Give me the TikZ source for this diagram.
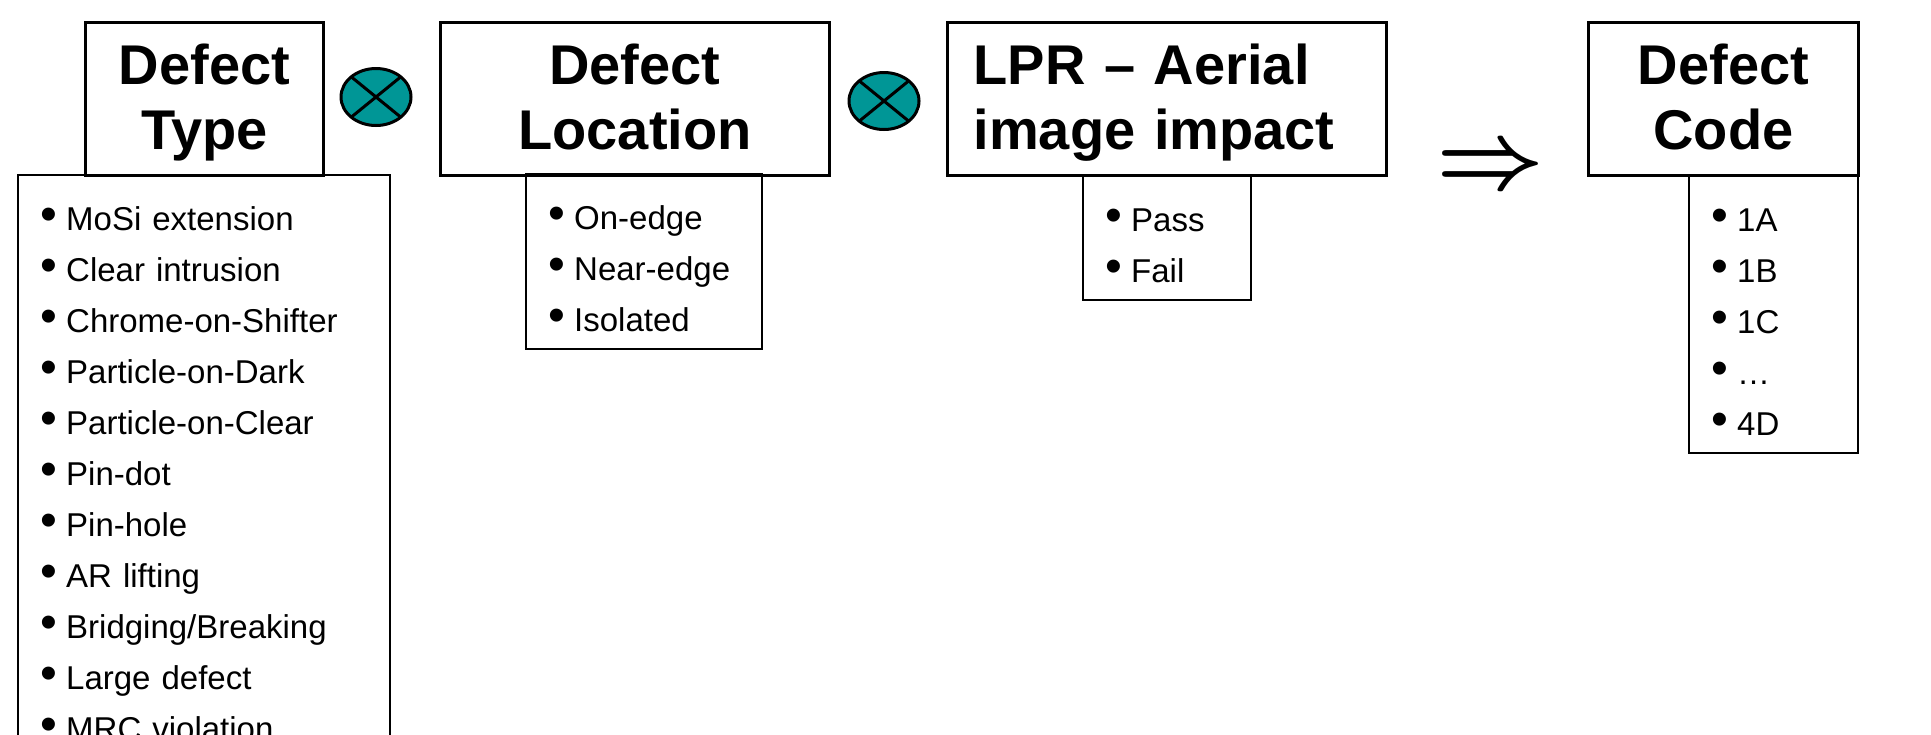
\documentclass[tikz,border=0pt]{standalone}
\usepackage{fontspec}
\setmainfont{Liberation Sans}
\usetikzlibrary{shapes.geometric}
\definecolor{sarcelle}{RGB}{0,150,150}
\newcommand{\puce}{\makebox[13pt][l]{\fontsize{24}{24}\selectfont\textbullet}}
\newcommand{\hautete}{\rule{0pt}{31pt}}
\newcommand{\bastete}{\rule[-13pt]{0pt}{13pt}}
\newcommand{\hautliste}{\rule{0pt}{27.5pt}}
\newcommand{\basliste}{\rule[-9pt]{0pt}{9pt}}
\tikzset{
  head_box/.style = {draw=black, line width=1.5pt, inner sep=0pt,
    anchor=north west, font=\fontsize{28}{32.5}\selectfont\bfseries},% titre
  list_box/.style = {draw=black, line width=1.2pt, inner xsep=11pt,
    inner ysep=0pt, anchor=north west, align=left,
    font=\fontsize{16.5}{25.5}\selectfont},% liste a puces
  mult_node/.style = {ellipse, draw=black, line width=1.5pt, fill=sarcelle,
    minimum width=35pt, minimum height=28.5pt, inner sep=0pt,
    path picture={\draw[line width=1.5pt]
      (path picture bounding box.north west) -- (path picture bounding box.south east)
      (path picture bounding box.north east) -- (path picture bounding box.south west);}}% produit
}
\begin{document}
\begin{tikzpicture}[x=0.5pt, y=-0.5pt]
  \useasboundingbox (0,0) rectangle (1931,734);
  % titres
  \node [head_box, text width=119pt, align=center] (typeH) at (84,21)
    {\hautete Defect\\ Type\bastete};
  \node [head_box, text width=194.5pt, align=center] (locH) at (439,21)
    {\hautete Defect\\ Location\bastete};
  \node [head_box, inner xsep=13pt, text width=193.5pt, align=left] (lprH) at (946,21)
    {\hautete LPR – Aerial\\ image impact\bastete};
  \node [head_box, text width=135pt, align=center] (codeH) at (1587,21)
    {\hautete Defect\\ Code\bastete};
  % listes
  \node [list_box, text width=164pt] (typeL) at (17,174)
    {\puce\hautliste MoSi extension\\
     \puce Clear intrusion\\
     \puce Chrome-on-Shifter\\
     \puce Particle-on-Dark\\
     \puce Particle-on-Clear\\
     \puce Pin-dot\\
     \puce Pin-hole\\
     \puce AR lifting\\
     \puce Bridging/Breaking\\
     \puce Large defect\\
     \puce MRC violation\basliste};
  \node [list_box, text width=96pt] (locL) at (525,173)
    {\puce\hautliste On-edge\\
     \puce Near-edge\\
     \puce Isolated\basliste};
  \node [list_box, text width=62pt] (lprL) at (1082,175)
    {\puce\hautliste Pass\\
     \puce Fail\basliste};
  \node [list_box, text width=62.5pt] (codeL) at (1688,175)
    {\puce\hautliste 1A\\
     \puce 1B\\
     \puce 1C\\
     \puce …\\
     \puce 4D\basliste};
  % operateurs
  \node [mult_node] (mul1) at (376,97) {};
  \node [mult_node] (mul2) at (884,101) {};
  \node [inner sep=0pt] (impl) at (1490,169)
    {\resizebox{54pt}{!}{\boldmath$\Rightarrow$}};
\end{tikzpicture}
\end{document}
